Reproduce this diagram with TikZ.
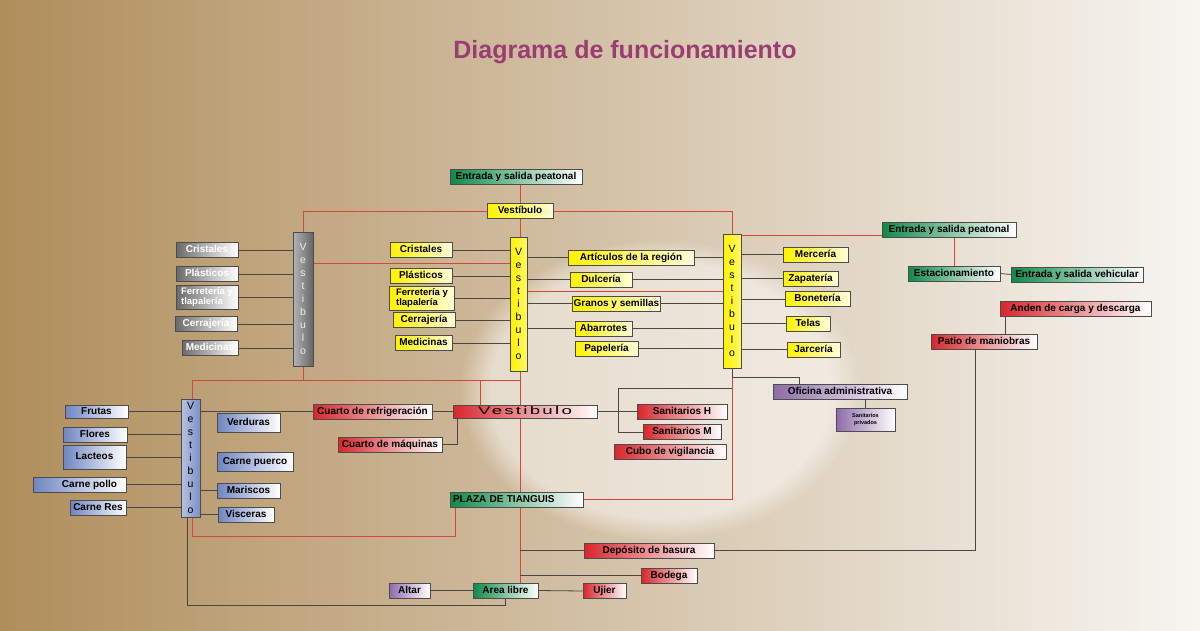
\documentclass[tikz,border=0pt]{standalone}
\usepackage{fontspec}
\setmainfont{Liberation Sans}
\usetikzlibrary{fadings}
\pgfdeclarelayer{back}\pgfdeclarelayer{lines}
\pgfsetlayers{back,lines,main}
\definecolor{cgreen}{HTML}{0E8A4A}
\definecolor{cyel}{HTML}{FFF200}
\definecolor{cred}{HTML}{D8262C}
\definecolor{cblue}{HTML}{6E85C0}
\definecolor{cpur}{HTML}{8E6BA8}
\definecolor{cgray}{HTML}{6A6A6A}
\definecolor{ctitle}{HTML}{9A3D72}
\definecolor{rline}{HTML}{D9453A}
\definecolor{gline}{HTML}{4A4640}
\definecolor{bgl}{HTML}{B08E5C}
\definecolor{bgm}{HTML}{D6C4A0}
\definecolor{bgr}{HTML}{F7F5F1}
\tikzset{
 bx0/.style={draw=gray!60!black,line width=0.7pt,inner sep=1pt,minimum height=15pt,
   font=\bfseries\fontsize{10}{10.5}\selectfont},
 bx/.style={bx0,text height=7.2pt,text depth=1.8pt},
 gb/.style={bx,left color=cgreen,right color=white},
 yb/.style={bx,left color=cyel,right color=cyel!15},
 rb/.style={bx,left color=cred,right color=white},
 bb/.style={bx,left color=cblue,right color=white},
 pb/.style={bx,left color=cpur,right color=white},
 grb/.style={bx,left color=cgray,right color=white,text=white},
 vbar/.style={draw=gray!60!black,line width=0.7pt,inner sep=0pt,align=center,
   font=\fontsize{10.5}{13}\selectfont},
 rl/.style={rline,line width=0.9pt},
 gl/.style={gline,line width=0.8pt},
}
\newcommand\vst{V\\e\\s\\t\\i\\b\\u\\l\\o}
\begin{document}
\begin{tikzpicture}[x=1pt,y=-1pt]
\begin{pgfonlayer}{back}
\shade[left color=bgl,middle color=bgm,right color=bgr] (0,0) rectangle (1200,630);
\fill[white,opacity=.5,path fading=circle with fuzzy edge 15 percent] (660,390) ellipse (200 and 150);
\end{pgfonlayer}
\useasboundingbox (0,0) rectangle (1200,630);
\node[text=ctitle,font=\bfseries\fontsize{25}{28}\selectfont] (title) at (625,52) {Diagrama de funcionamiento};
% top
\node[gb,minimum width=132pt] (E1) at (516,177) {Entrada y salida peatonal};
\node[yb,minimum width=66pt] (V0) at (520,211) {Vestíbulo};
\node[vbar,left color=gray!60,right color=gray!80!black,text=white!85!gray,minimum width=20pt,minimum height=134pt] (VG) at (303,299) {\vst};
\node[grb,minimum width=62pt] (gCr) at (207,250) {Cristales};
\node[grb,minimum width=62pt] (gPl) at (207,274) {Plásticos};
\node[bx0,left color=cgray,right color=white,text=white,minimum width=62pt,minimum height=24pt,font=\bfseries\fontsize{9.5}{10}\selectfont,align=left] (gFe) at (207,297) {Ferretería y\\tlapalería};
\node[grb,minimum width=62pt] (gCe) at (206,324) {Cerrajería};
\node[grb,minimum width=56pt] (gMe) at (210,348) {Medicinas};
\node[vbar,left color=cyel,right color=cyel!60,minimum width=17pt,minimum height=134pt] (VC) at (518.5,304) {\vst};
\node[yb,minimum width=62pt] (yCr) at (421,250) {Cristales};
\node[yb,minimum width=62pt] (yPl) at (421,276) {Plásticos};
\node[bx0,left color=cyel,right color=cyel!15,minimum width=65pt,minimum height=24pt,font=\bfseries\fontsize{9.5}{10}\selectfont,align=left] (yFe) at (422,298) {Ferretería y\\tlapalería};
\node[yb,minimum width=62pt] (yCe) at (424,320) {Cerrajería};
\node[yb,minimum width=57pt] (yMe) at (423.5,343) {Medicinas};
\node[yb,minimum width=126pt] (Art) at (631,257.5) {Artículos de la región};
\node[yb,minimum width=62pt] (Dul) at (601,279.5) {Dulcería};
\node[yb,minimum width=83pt] (Gra) at (616.5,303.5) {Granos y semillas};
\node[yb,minimum width=57pt] (Aba) at (603.5,328.5) {Abarrotes};
\node[yb,minimum width=63pt] (Pap) at (606.5,348.5) {Papelería};
\node[vbar,left color=cyel,right color=cyel!60,minimum width=18pt,minimum height=134pt] (VR) at (732,301) {\vst};
\node[yb,minimum width=65pt] (Mer) at (815.5,254.5) {Mercería};
\node[yb,minimum width=55pt] (Zap) at (810.5,278.5) {Zapatería};
\node[yb,minimum width=65pt] (Bon) at (817.5,299) {Bonetería};
\node[yb,minimum width=44pt] (Tel) at (808,323.5) {Telas};
\node[yb,minimum width=53pt] (Jar) at (813.5,349.5) {Jarcería};
\node[gb,minimum width=134pt] (E2) at (949,229.5) {Entrada y salida peatonal};
\node[gb,minimum width=92pt] (Est) at (954,273.5) {Estacionamiento};
\node[gb,minimum width=132pt] (EV) at (1077,274.5) {Entrada y salida vehicular};
\node[rb,minimum width=151pt] (And) at (1075.5,308.5) {Anden de carga y descarga};
\node[rb,minimum width=106pt] (Pat) at (984,342) {Patio de maniobras};
\node[pb,minimum width=134pt] (Ofi) at (840,391.5) {Oficina administrativa};
\node[bx0,left color=cpur,right color=white,minimum width=59pt,minimum height=23pt,align=center,font=\bfseries\fontsize{5.5}{6.5}\selectfont] (SaP) at (865.5,419.5) {Sanitarios\\privados};
% lower
\node[vbar,left color=cblue!50,right color=cblue!90,minimum width=19pt,minimum height=118pt] (VB) at (190.5,458) {\vst};
\node[bb,minimum width=63pt,minimum height=13pt] (Fru) at (96.5,411.5) {Frutas};
\node[bb,minimum width=64pt] (Flo) at (95,434.5) {Flores};
\node[bb,minimum width=63pt,minimum height=24pt] (Lac) at (94.5,457) {Lacteos};
\node[bb,minimum width=93pt] (Pol) at (79.5,484.5) {\hspace*{20pt}Carne pollo};
\node[bb,minimum width=56pt] (Res) at (98,507.5) {Carne Res};
\node[bb,minimum width=63pt,minimum height=19pt] (Ver) at (248.5,422.5) {Verduras};
\node[bb,minimum width=76pt,minimum height=19pt] (Pue) at (255,461.5) {Carne puerco};
\node[bb,minimum width=63pt] (Mar) at (248.5,490.5) {Mariscos};
\node[bb,minimum width=56pt] (Vis) at (246,514.5) {Visceras};
\node[rb,minimum width=119pt] (CR) at (372.5,411.5) {Cuarto de refrigeración};
\node[rb,minimum width=144pt,minimum height=13pt,font=\fontsize{11}{11}\selectfont] (VRd) at (525,411.5) {\scalebox{1.7}[1]{\addfontfeatures{LetterSpace=12}Vestibulo}};
\node[rb,minimum width=104pt] (CM) at (390,444.5) {Cuarto de máquinas};
\node[rb,minimum width=90pt] (SH) at (682,411.5) {Sanitarios H};
\node[rb,minimum width=78pt] (SM) at (682,431.5) {Sanitarios M};
\node[rb,minimum width=112pt] (CV) at (670,451.5) {Cubo de vigilancia};
\node[gb,minimum width=133pt,align=left,text width=127pt] (Pla) at (516.5,499.5) {PLAZA DE TIANGUIS};
\node[rb,minimum width=130pt] (Dep) at (649,550.5) {Depósito de basura};
\node[rb,minimum width=56pt] (Bod) at (669,575.5) {Bodega};
\node[gb,minimum width=65pt] (AL) at (505.5,590.5) {Area libre};
\node[pb,minimum width=41pt] (Alt) at (409.5,590.5) {Altar};
\node[rb,minimum width=43pt] (Uj) at (604.5,591) {Ujier};
\begin{pgfonlayer}{lines}
% red
\draw[rl] (E1.south -| V0.north) -- (V0.north);
\draw[rl] (V0.south) -- (V0.south |- AL.north);
\draw[rl] (V0.west) -| (VG.north);
\draw[rl] (V0.east) -| (VR.north);
\draw[rl] (VG.east |- 0,263) -- (VC.west |- 0,263);
\draw[rl] (VC.east |- 0,291) -- (VR.west |- 0,291);
\draw[rl] (VR.east |- 0,235) -- (E2.west |- 0,235);
\draw[rl] (Est.north |- E2.south) -- (Est.north);
\draw[rl] (VG.south) -- (VG.south |- 0,380);
\draw[rl] ([xshift=2pt]VB.north) |- (V0.south |- 0,380);
\draw[rl] (480,380) -- (VRd.north -| 480,0);
\draw[rl] (Pla.south -| 455,0) |- ([xshift=2pt]VB.south |- 0,536) -- ([xshift=2pt]VB.south);
\draw[rl] (Pla.east) -| (VR.south);
% gray
\foreach \n in {gCr,gPl,gFe,gCe,gMe}{\draw[gl] (\n.east) -- (\n.east -| VG.west);}
\foreach \n in {yCr,yPl,yFe,yCe,yMe}{\draw[gl] (\n.east) -- (\n.east -| VC.west);}
\foreach \n in {Art,Dul,Gra,Aba}{\draw[gl] (\n.west -| VC.east) -- (\n.west);}
\foreach \n in {Art,Dul,Gra,Aba,Pap}{\draw[gl] (\n.east) -- (\n.east -| VR.west);}
\foreach \n in {Mer,Zap,Bon,Tel,Jar}{\draw[gl] (\n.west -| VR.east) -- (\n.west);}
\draw[gl] (VR.south) |- (799,377) -- (Ofi.north -| 799,0);
\draw[gl] (VR.south |- 0,388) -| (618,432) -- (SM.west |- 0,432);
\draw[gl] (Ofi.south -| SaP.north) -- (SaP.north);
\draw[gl] (Est.east) -- (EV.west);
\draw[gl] (And.south -| 1005,0) -- (Pat.north -| 1005,0);
\draw[gl] (Pat.south -| 975,0) |- (Dep.east);
\foreach \n in {Fru,Flo,Lac,Pol,Res}{\draw[gl] (\n.east) -- (\n.east -| VB.west);}
\foreach \n in {Mar,Vis}{\draw[gl] (\n.west -| VB.east) -- (\n.west);}
\draw[gl] (VB.east |- CR.west) -- (CR.west);
\draw[gl] (CR.east) -- (VRd.west);
\draw[gl] (CM.east) -| (VRd.south -| 457,0);
\draw[gl] (VRd.east) -- (SH.west);
\draw[gl] (V0.south |- Dep.west) -- (Dep.west);
\draw[gl] (V0.south |- Bod.west) -- (Bod.west);
\draw[gl] (Alt.east) -- (AL.west);
\draw[gl] (AL.east) -- (Uj.west);
\draw[gl] ([xshift=-3pt]VB.south) |- (AL.south |- 0,605) -- (AL.south);
\end{pgfonlayer}
\end{tikzpicture}
\end{document}
